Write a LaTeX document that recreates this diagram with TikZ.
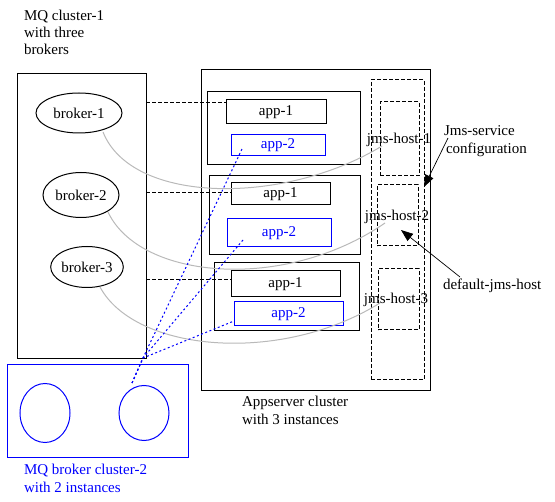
\documentclass[tikz,border=0pt]{standalone}
\usepackage{fontspec}
\setmainfont{Liberation Serif}
\usetikzlibrary{arrows.meta,shapes.geometric}
\definecolor{mqblue}{RGB}{0,0,255}
\definecolor{curvegray}{RGB}{185,185,185}
\begin{document}
\begin{tikzpicture}[x=1pt,y=-1pt,line width=1pt,
  every node/.style={font=\fontsize{15}{18}\selectfont,inner sep=0pt,outer sep=0pt},
  frame/.style={draw,rectangle,anchor=north west},
  appbox/.style={draw,rectangle},
  bluebox/.style={draw=mqblue,text=mqblue,rectangle},
  dashbox/.style={draw,rectangle,anchor=north west,dash pattern=on 4pt off 2pt},
  broker/.style={draw,ellipse},
  label/.style={anchor=base west},
  bluelabel/.style={anchor=base west,text=mqblue},
  link/.style={dash pattern=on 4pt off 2pt},
  bluelink/.style={draw=mqblue,dash pattern=on 2pt off 2.5pt},
  soft/.style={draw=curvegray},
  pointer/.style={-{Triangle[length=12pt,width=9pt]},line width=0.7pt}]
\useasboundingbox (0,0) rectangle (555,502);

% MQ cluster 1
\node[label] (t1a) at (24,21) {MQ cluster-1};
\node[label] (t1b) at (24,38) {with three};
\node[label] (t1c) at (24,55) {brokers};
\node[frame,minimum width=129pt,minimum height=285pt] (mq1) at (17,74) {};
\node[broker,minimum width=86pt,minimum height=40pt] (b1) at (79,113) {broker-1};
\node[broker,minimum width=76pt,minimum height=45pt] (b2) at (81,195) {broker-2};
\node[broker,minimum width=70pt,minimum height=41pt] (b3) at (87,267) {broker-3};

% Appserver cluster
\node[frame,minimum width=229pt,minimum height=321pt] (as) at (201,70) {};
\node[label] (t2a) at (242,407) {Appserver cluster};
\node[label] (t2b) at (242,425) {with 3 instances};

\node[frame,minimum width=153pt,minimum height=73pt] (i1) at (207,92) {};
\node[frame,minimum width=151pt,minimum height=79pt] (i2) at (209,176) {};
\node[frame,minimum width=145pt,minimum height=68pt] (i3) at (214,263) {};

\node[appbox,minimum width=100pt,minimum height=24pt] (a11) at (276,112) {app-1};
\node[bluebox,minimum width=94pt,minimum height=21pt] (a12) at (278,145.5) {app-2};
\node[appbox,minimum width=99pt,minimum height=22pt] (a21) at (280.5,194) {app-1};
\node[bluebox,minimum width=104pt,minimum height=28pt] (a22) at (279,233) {app-2};
\node[appbox,minimum width=109pt,minimum height=26pt] (a31) at (285.5,284) {app-1};
\node[bluebox,minimum width=109pt,minimum height=24pt] (a32) at (288.5,314) {app-2};

% JMS service
\node[dashbox,minimum width=53pt,minimum height=300pt] (jms) at (371,80) {};
\node[dashbox,minimum width=39pt,minimum height=74pt] (h1) at (380,102) {};
\node[dashbox,minimum width=41pt,minimum height=61pt] (h2) at (377,185) {};
\node[dashbox,minimum width=41pt,minimum height=61pt] (h3) at (378,269) {};
\node[anchor=base] (h1t) at (399,144) {jms-host-1};
\node[anchor=base] (h2t) at (397,221) {jms-host-2};
\node[anchor=base] (h3t) at (396,304) {jms-host-3};

\node[label] (js1) at (444,136) {Jms-service};
\node[label] (js2) at (446,154) {configuration};
\node[label] (dj) at (443,290) {default-jms-host};

% MQ broker cluster 2
\node[frame,draw=mqblue,minimum width=181pt,minimum height=93pt] (mq2) at (7,365) {};
\node[draw=mqblue,ellipse,minimum width=50pt,minimum height=59pt] (c1) at (45,413) {};
\node[draw=mqblue,ellipse,minimum width=50pt,minimum height=55pt] (c2) at (144,413) {};
\node[bluelabel] (t3a) at (24,475) {MQ broker cluster-2};
\node[bluelabel] (t3b) at (24,492.5) {with 2 instances};

% coordinates
\coordinate (l1s) at (146,103); \coordinate (l1e) at (226,103);
\coordinate (l2s) at (146,193); \coordinate (l2e) at (231,193);
\coordinate (l3s) at (146,280); \coordinate (l3e) at (231,280);
\coordinate (hub) at (143,358);
\coordinate (bs) at (132,383);
\coordinate (e1) at (242,149);
\coordinate (e2) at (243,240);
\coordinate (e3) at (234,321);
\coordinate (g1s) at (103,132); \coordinate (g1e) at (382,146);
\coordinate (g2s) at (108,212); \coordinate (g2e) at (385,223);
\coordinate (g3s) at (100,287); \coordinate (g3e) at (380,303);
\coordinate (p1s) at (448,138); \coordinate (p1e) at (424,187);
\coordinate (p2s) at (460,277); \coordinate (p2e) at (401,230);

% broker to app links
\draw[link] (l1s) -- (l1e);
\draw[link] (l2s) -- (l2e);
\draw[link] (l3s) -- (l3e);

% gray curves broker -> jms host
\draw[soft] (g1s) .. controls (132,205) and (285,205) .. (g1e);
\draw[soft] (g2s) .. controls (140,280) and (285,292) .. (g2e);
\draw[soft] (g3s) .. controls (135,352) and (280,365) .. (g3e);

% blue links
\draw[bluelink] (bs) -- (hub) -- (e1);
\draw[bluelink] (bs) -- (hub) -- (e2);
\draw[bluelink] (bs) -- (hub) -- (e3);

% pointers
\draw[pointer] (p1s) -- (p1e);
\draw[pointer] (p2s) -- (p2e);
\end{tikzpicture}
\end{document}
